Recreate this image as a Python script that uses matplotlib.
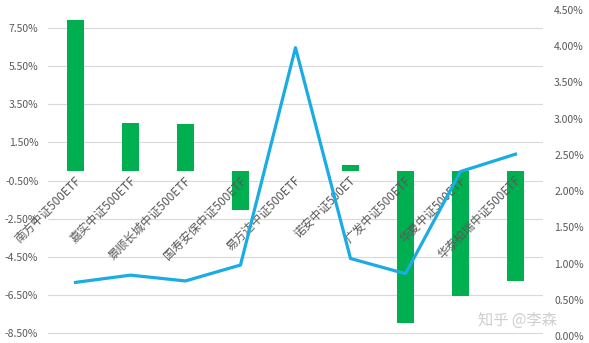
import matplotlib.pyplot as plt
from matplotlib.ticker import FuncFormatter

plt.rcParams['font.family'] = ['Noto Sans CJK SC', 'DejaVu Sans']

funds = ['南方中证500ETF', '嘉实中证500ETF', '景顺长城中证500ETF', '国寿安保中证500ETF',
         '易方达中证500ETF', '诺安中证500ET', '广发中证500ETF', '华夏中证500ETF',
         '华泰柏瑞中证500ETF']
bar_vals = [7.95, 2.53, 2.47, -2.07, 0.0, 0.3, -7.98, -6.56, -5.77]   # left axis, %
line_vals = [0.74, 0.84, 0.76, 0.98, 3.98, 1.07, 0.86, 2.27, 2.51]    # right axis, %
left_ticks = [-8.5, -6.5, -4.5, -2.5, -0.5, 1.5, 3.5, 5.5, 7.5]
right_ticks = [0, 0.5, 1.0, 1.5, 2.0, 2.5, 3.0, 3.5, 4.0, 4.5]

green = '#00B050'
blue = '#1AACE3'
grey = '#595959'

fig = plt.figure(figsize=(5.89, 3.43), dpi=100)
ax = fig.add_axes([48 / 589, 7 / 343, 495 / 589, 326 / 343])
x = list(range(len(funds)))

ax.bar(x, bar_vals, width=0.31, color=green, zorder=2)
ax.set_xlim(-0.5, len(funds) - 0.5)
ax.set_ylim(-8.68, 8.47)
ax.set_yticks(left_ticks)
ax.yaxis.set_major_formatter(FuncFormatter(lambda v, p: '%.2f%%' % v))
ax.grid(axis='y', color='#D9D9D9', linewidth=0.8, zorder=0)
ax.set_xticks([])
ax.tick_params(axis='y', length=0, pad=7, labelsize=7.5, labelcolor=grey)
for s in ax.spines.values():
    s.set_visible(False)

# category labels sit at the zero line, rotated
for i, name in enumerate(funds):
    ax.text(i + 0.06, -0.4, name, rotation=45, rotation_mode='anchor',
            ha='right', va='center', fontsize=8.5, color=grey, zorder=3)

ax2 = ax.twinx()
ax2.plot(x, line_vals, color=blue, linewidth=2.3, zorder=4)
ax2.set_ylim(0, 4.5)
ax2.set_yticks(right_ticks)
ax2.yaxis.set_major_formatter(FuncFormatter(lambda v, p: '%.2f%%' % v))
ax2.tick_params(axis='y', length=0, pad=8, labelsize=7.5, labelcolor=grey)
for s in ax2.spines.values():
    s.set_visible(False)

fig.text(478 / 589, 1 - 320 / 343, '知乎 @李森', fontsize=11, color='#CFCFCF',
         va='center', ha='left')

fig.savefig('out.png', dpi=100)
